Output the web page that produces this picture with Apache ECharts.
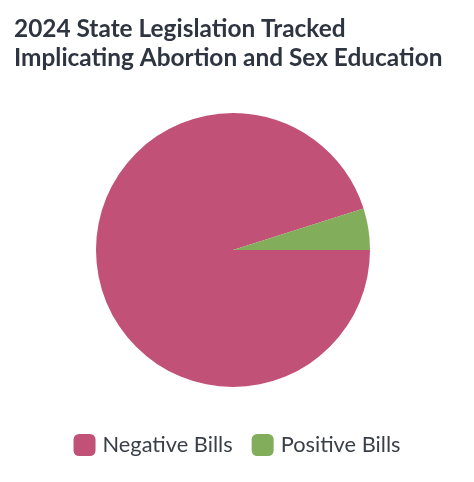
<!DOCTYPE html>
<html>
<head>
<meta charset="utf-8">
<script src="https://cdn.jsdelivr.net/npm/echarts@6/dist/echarts.min.js"></script>
<style>
html,body{margin:0;padding:0;background:#fff;}
#chart{width:474px;height:482px;}
</style>
</head>
<body>
<div id="chart"></div>
<script>
const categories = ["Negative Bills", "Positive Bills"];
const values = [95.1, 4.9];
const colors = ["#c15177", "#82ad5a"];

const chart = echarts.init(document.getElementById('chart'));
chart.setOption({
  animation: false,
  title: {
    text: "2024 State Legislation Tracked\nImplicating Abortion and Sex Education",
    left: 9,
    top: 10,
    textStyle: {
      fontFamily: "Lato",
      fontWeight: "bold",
      fontSize: 24.4,
      lineHeight: 29,
      color: "#2e3540"
    }
  },
  legend: {
    bottom: 21,
    left: "center",
    itemWidth: 22,
    itemHeight: 22,
    itemGap: 19,
    icon: "roundRect",
    textStyle: {
      fontFamily: "Lato",
      fontSize: 21.8,
      color: "#3a4049",
      padding: [0, 0, 0, 2]
    },
    data: categories
  },
  series: [{
    type: "pie",
    center: [233, 250],
    radius: 137,
    startAngle: 0,
    clockwise: true,
    label: { show: false },
    labelLine: { show: false },
    itemStyle: { borderWidth: 0 },
    emphasis: { disabled: true },
    data: categories.map((c, i) => ({ name: c, value: values[i], itemStyle: { color: colors[i] } }))
  }]
});
</script>
</body>
</html>
